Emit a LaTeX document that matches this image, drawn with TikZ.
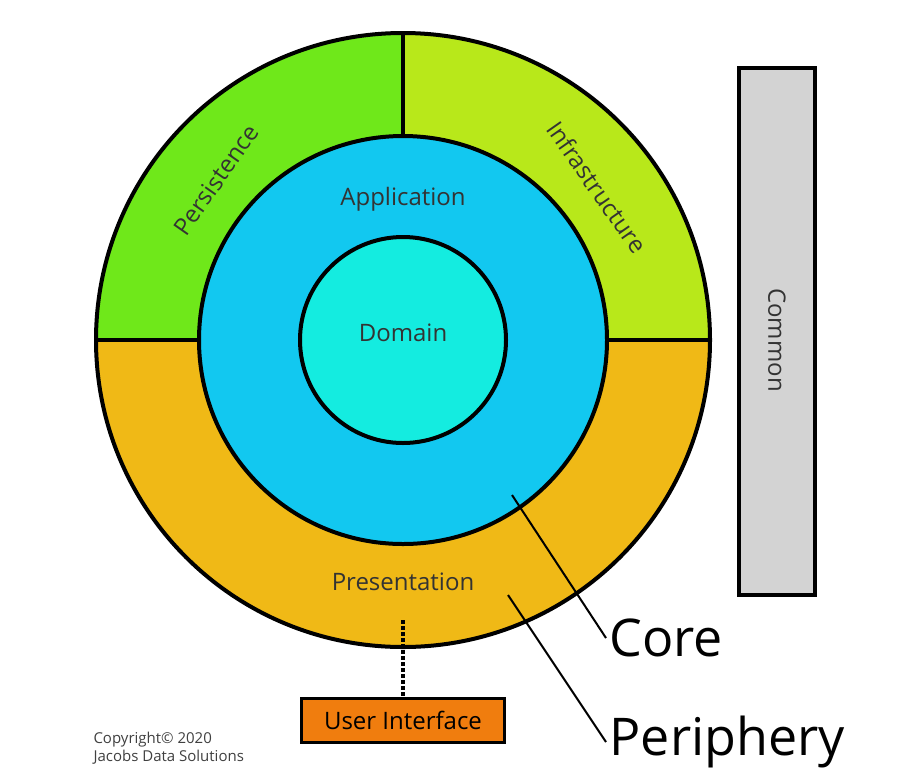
\documentclass[tikz,border=0pt]{standalone}
\usepackage{fontspec}
\setmainfont{Open Sans}
\definecolor{gL}{HTML}{6FE81A}
\definecolor{gR}{HTML}{B8E81A}
\definecolor{orB}{HTML}{F0B916}
\definecolor{blu}{HTML}{12C8F0}
\definecolor{cya}{HTML}{14ECE0}
\definecolor{ui}{HTML}{F07D0E}
\definecolor{gry}{HTML}{D3D3D3}
\begin{document}
\begin{tikzpicture}[x=1pt,y=-1pt,
  ln/.style={line width=4pt,black},
  lbl/.style={font=\fontsize{24}{28}\selectfont,text=black!80}]
\useasboundingbox[fill=white] (0,0) rectangle (917,780);
\coordinate (c) at (403,340);
\fill[orB] (c) circle (307);
\fill[gL] (c) -- (96,340) arc[start angle=180,end angle=270,radius=307] -- cycle;
\fill[gR] (c) -- (403,33) arc[start angle=270,end angle=360,radius=307] -- cycle;
\draw[ln] (c) circle (307);
\draw[ln] (96,340) -- (198,340);
\draw[ln] (608,340) -- (710,340);
\draw[ln] (403,33) -- (403,137);
\node[circle,draw,line width=4pt,fill=blu,minimum size=408pt,inner sep=0] (app) at (c) {};
\node[circle,draw,line width=4pt,fill=cya,minimum size=206pt,inner sep=0] (dom) at (c) {};
\node[lbl] (tapp) at (403,199) {Application};
\node[lbl] (tdom) at (403,333) {Domain};
\node[lbl] (tpre) at (403,582) {Presentation};
\node[lbl,rotate=55] (tper) at (216,180) {Persistence};
\node[lbl,rotate=-55] (tinf) at (597,187) {Infrastructure};
\node[draw,line width=4pt,fill=gry,minimum width=76pt,minimum height=527pt,inner sep=0] (com) at (777,331) {};
\node[lbl,rotate=-90] at (777,340) {Common};
\node[draw,line width=3pt,fill=ui,minimum width=203pt,minimum height=44pt,inner sep=0,font=\fontsize{24}{28}\selectfont] (ui) at (403,720) {User Interface};
\coordinate (d1) at (403,620);
\draw[line width=4pt,dotted] (d1) -- (ui.north);
\node[font=\fontsize{52}{60}\selectfont,anchor=west] (core) at (606,638) {Core};
\node[font=\fontsize{52}{60}\selectfont,anchor=west] (peri) at (606,742) {Periphery};
\coordinate (p1) at (512,495);
\coordinate (p2) at (508,595);
\draw[line width=2pt] (p1) -- (core.west);
\draw[line width=2pt] (p2) -- (peri.west);
\node[anchor=west,font=\fontsize{15}{18}\selectfont,text=black!75,align=left] (copy) at (90,748) {Copyright\textcopyright{} 2020\\Jacobs Data Solutions};
\end{tikzpicture}
\end{document}
